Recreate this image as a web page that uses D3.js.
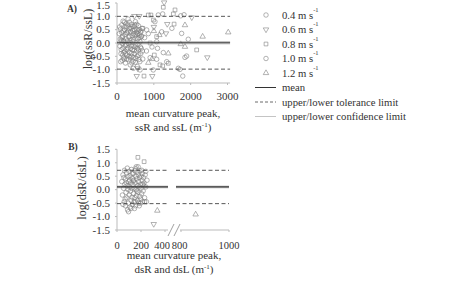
<!DOCTYPE html>
<html><head><meta charset="utf-8">
<script src="https://cdn.jsdelivr.net/npm/d3@7"></script>
<style>body{margin:0;background:#fff}svg{display:block}text{font-family:"Liberation Serif",serif;fill:#333}</style>
</head><body><svg id="c" width="474" height="287"></svg>
<script>
// ---------- DATA ----------
const yTicks = [1.5, 1.0, 0.5, 0.0, -0.5, -1.0, -1.5];
const xTicksA = [0, 1000, 2000, 3000];
const xTicksBLeft = [0, 200, 400];
const xTicksBRight = [800, 1000];
const legendSpeeds = ["0.4", "0.6", "0.8", "1.0", "1.2"];
const legendLines = ["mean", "upper/lower tolerance limit", "upper/lower confidence limit"];

// Panel A: [mean curvature peak, log(ssR/ssL)]
const a04 = [
[60,0.35],[80,-0.12],[95,0.52],[110,-0.4],[120,0.1],[130,0.68],[140,-0.65],[150,0.25],[160,-0.2],[170,0.45],
[180,-0.55],[190,0.05],[200,0.78],[210,-0.3],[220,0.32],[230,-0.75],[240,0.15],[250,-0.05],[260,0.6],[270,-0.45],
[280,0.38],[290,-0.18],[300,0.9],[310,-0.62],[320,0.22],[330,-0.35],[340,0.55],[350,0.02],[360,-0.82],[370,0.42],
[380,-0.1],[390,0.7],[400,-0.5],[410,0.28],[420,-0.25],[430,0.48],[440,-0.68],[450,0.12],[460,0.62],[470,-0.4],
[480,0.3],[490,-0.15],[500,0.8],[510,-0.58],[520,0.18],[530,-0.3],[540,0.5],[550,-0.88],[560,0.35],[570,-0.05],
[580,0.65],[590,-0.45],[600,0.2],[620,-0.7],[640,0.4],[660,-0.2],[680,0.55],[700,-0.6],
[70,0.6],[100,-0.7],[125,0.4],[145,-0.02],[165,0.82],[185,-0.35],[205,0.5],[225,-0.1],[245,0.72],[265,-0.6],
[285,0.08],[305,0.45],[325,-0.5],[345,0.25],[365,-0.2],[385,0.55],[405,-0.75],[425,0.05],[445,0.35],[465,-0.28],
[485,0.68],[505,-0.08],[525,0.4],[545,-0.5],[565,0.15],[585,-0.25],[605,0.5],[625,0.05],[645,-0.4],[665,0.25],
[90,0.15],[115,-0.25],[135,0.2],[155,-0.45],[175,0.1],[195,-0.6],[215,0.62],[235,-0.4],[255,0.38],[275,-0.25],
[295,0.68],[315,-0.02],[335,0.78],[355,-0.55],[375,0.12],[395,-0.38],[415,0.62],[435,-0.12],[455,-0.55],[475,0.5],
[495,-0.72],[515,0.3],[535,0.7],[555,-0.2],[575,0.45],[595,-0.62],[615,0.3],[635,-0.15],[655,0.45],[690,-0.3]
];
const a06 = [[1280,1.52],[470,1.01],[605,1.01],[2030,0.96],[1365,0.71],[1330,0.36],[670,0.24],[2452,-0.54],[535,-1.24],[958,-1.24],[560,-0.95],[1000,0.6]];
const a08 = [[1257,1.34],[1575,1.24],[1530,1.09],[850,1.05],[920,1.05],[990,0.86],[1550,0.71],[1077,0.24],[2163,-0.26],[1013,-0.45],[1393,-0.76],[1240,-0.86],[1167,-0.82],[733,-1.24],[900,0.0],[700,0.55]];
const a10 = [[1120,1.05],[1240,1.09],[1730,1.02],[1820,1.06],[1030,0.8],[805,0.49],[1490,0.55],[1213,0.42],[1755,0.36],[1935,0.14],[1077,0.05],[1257,-0.36],[1077,-0.61],[1845,-0.54],[1890,-0.49],[1350,-0.7],[1665,-0.95],[1710,-0.99],[1785,-1.24],[625,-1.01],[985,-1.01],[443,-0.95],[800,-0.3],[900,-0.55],[750,0.2],[950,-0.15],[850,0.35],[1100,-0.2]];
const a12 = [[1845,0.67],[2325,0.24],[3020,0.4],[1730,-0.04],[1845,-0.14],[1393,-0.39],[850,-0.74],[1000,0.45],[950,-0.6],[1150,0.3]];
const aMean = 0.01, aConf = [0.05, -0.03], aTol = [1.0, -0.98];

// Panel B: [mean curvature peak, log(dsR/dsL)]
const b04 = [
[40,0.3],[45,-0.2],[50,0.55],[55,0.05],[60,-0.45],[62,0.72],[65,0.2],[70,-0.6],[72,0.4],[75,-0.1],
[80,0.62],[82,-0.3],[85,0.15],[88,-0.75],[90,0.48],[92,0.0],[95,-0.5],[98,0.3],[100,0.68],[102,-0.2],
[105,0.1],[108,-0.65],[110,0.52],[112,-0.05],[115,0.25],[118,-0.4],[120,0.75],[122,0.05],[125,-0.28],[128,0.42],
[130,-0.55],[132,0.18],[135,0.6],[138,-0.15],[140,0.35],[142,-0.45],[145,0.05],[148,0.7],[150,-0.3],[152,0.25],
[155,-0.6],[158,0.5],[160,0.0],[162,-0.22],[165,0.4],[168,0.65],[170,-0.4],[172,0.15],[175,-0.1],[178,0.55],
[180,0.3],[182,-0.5],[185,0.1],[188,0.45],[190,-0.25],[192,0.7],[195,0.2],[198,-0.35],[200,0.5],[202,0.05],
[205,-0.15],[208,0.35],[210,0.6],[212,-0.45],[215,0.2],[218,-0.05],[220,0.45],[225,0.25],[230,-0.3],[235,0.55],
[240,0.1],[245,-0.45],[250,0.35],[50,-0.55],[58,0.45],[68,-0.35],[78,0.25],[86,0.8],[96,-0.82],[106,0.35],
[116,-0.7],[126,0.6],[136,0.32],[146,-0.7],[156,0.78],[166,-0.05],[176,0.85],[186,-0.6],[196,-0.5],[206,0.72]
];
const b06 = [[306,-1.28],[150,-0.45]];
const b08 = [[174,1.2],[226,1.04]];
const b10 = [[160,0.85],[240,0.68],[230,-0.45]];
const b12 = [[226,0.15],[336,-0.78],[861,-0.92]];
const bMean = 0.1, bConf = [0.13, 0.07], bTol = [0.72, -0.52];

// ---------- DRAW ----------
const svg = d3.select("#c");
const axisCol = "#bbb", markCol = "#808080";

const xA = d3.scaleLinear().domain([0, 3000]).range([117, 227.5]);
const yA = d3.scaleLinear().domain([-1.5, 1.5]).range([83, 3]);
const xBL = d3.scaleLinear().domain([0, 400]).range([117, 165]);
const xBR = d3.scaleLinear().domain([800, 1000]).range([181, 229]);
const xB = v => v <= 400 ? xBL(v) : xBR(v);
const yB = d3.scaleLinear().domain([-1.5, 1.5]).range([230, 149.3]);

const sym = {
  circle: d3.symbol().type(d3.symbolCircle).size(16)(),
  square: d3.symbol().type(d3.symbolSquare).size(14)(),
  tri: d3.symbol().type(d3.symbolTriangle).size(13)()
};
function marks(g, data, x, y, kind) {
  g.selectAll(null).data(data).join("path")
    .attr("d", kind === "inv" ? sym.tri : sym[kind])
    .attr("transform", d => `translate(${x(d[0])},${y(d[1])})` + (kind === "inv" ? " rotate(180)" : ""))
    .attr("fill", "none").attr("stroke", markCol).attr("stroke-width", 0.6);
}
function hline(g, x1, x2, yv, y, style) {
  const l = g.append("line").attr("x1", x1).attr("x2", x2).attr("y1", y(yv)).attr("y2", y(yv));
  if (style === "mean") l.attr("stroke", "#333").attr("stroke-width", 1.2);
  if (style === "tol") l.attr("stroke", "#444").attr("stroke-width", 0.9).attr("stroke-dasharray", "4,2.5");
  if (style === "conf") l.attr("stroke", "#999").attr("stroke-width", 0.7);
}
function yAxis(g, y, x0) {
  g.append("line").attr("x1", x0).attr("x2", x0).attr("y1", y(1.5)).attr("y2", y(-1.5)).attr("stroke", axisCol);
  g.selectAll(null).data(yTicks).join("line")
    .attr("x1", x0 - 2).attr("x2", x0).attr("y1", d => y(d)).attr("y2", d => y(d)).attr("stroke", axisCol);
  g.selectAll(null).data(yTicks).join("text")
    .attr("x", x0 - 7).attr("y", d => Math.max(y(d) + 3.8, 8.5)).attr("text-anchor", "end").attr("font-size", 11)
    .text(d => d.toFixed(1));
}

// Panel A
const gA = svg.append("g");
yAxis(gA, yA, 117);
gA.append("line").attr("x1", xA(0)).attr("x2", xA(3070)).attr("y1", yA(-1.5)).attr("y2", yA(-1.5)).attr("stroke", axisCol);
gA.selectAll(null).data(xTicksA).join("line").attr("x1", d => xA(d)).attr("x2", d => xA(d))
  .attr("y1", yA(-1.5)).attr("y2", yA(-1.5) + 2).attr("stroke", axisCol);
gA.selectAll(null).data(xTicksA).join("text").attr("x", d => xA(d)).attr("y", 99.5)
  .attr("text-anchor", "middle").attr("font-size", 11).text(d => d);
marks(gA, a04, xA, yA, "circle");
marks(gA, a06, xA, yA, "inv");
marks(gA, a08, xA, yA, "square");
marks(gA, a10, xA, yA, "circle");
marks(gA, a12, xA, yA, "tri");
aConf.forEach(v => hline(gA, xA(0), xA(3070), v, yA, "conf"));
hline(gA, xA(0), xA(3070), aMean, yA, "mean");
aTol.forEach(v => hline(gA, xA(0), xA(3070), v, yA, "tol"));
gA.append("text").attr("x", 72).attr("y", 12).attr("font-size", 9.5).attr("font-weight", "bold").attr("text-anchor", "middle").text("A)");
gA.append("text").attr("transform", "translate(92,39) rotate(-90)").attr("text-anchor", "middle").attr("font-size", 12).text("log(ssR/ssL)");
gA.append("text").attr("x", 173).attr("y", 117).attr("text-anchor", "middle").attr("font-size", 11).text("mean curvature peak,");
const tA = gA.append("text").attr("x", 173).attr("y", 131).attr("text-anchor", "middle").attr("font-size", 11);
tA.append("tspan").text("ssR and ssL (m");
tA.append("tspan").attr("font-size", 7).attr("dy", -4).text("-1");
tA.append("tspan").attr("dy", 4).text(")");

// Legend
const gL = svg.append("g");
const legKinds = ["circle", "inv", "square", "circle", "tri"];
const legY = d3.scaleLinear().domain([0, 7]).range([15, 116.5]);
legendSpeeds.forEach((s, i) => {
  const yy = legY(i);
  gL.append("path").attr("d", legKinds[i] === "inv" ? sym.tri : sym[legKinds[i]])
    .attr("transform", `translate(266,${yy})` + (legKinds[i] === "inv" ? " rotate(180)" : ""))
    .attr("fill", "none").attr("stroke", markCol).attr("stroke-width", 0.6);
  const t = gL.append("text").attr("x", 282).attr("y", yy + 3.5).attr("font-size", 10.7);
  t.append("tspan").text(s + " m s");
  t.append("tspan").attr("font-size", 6.5).attr("dy", -7).text("-1");
});
legendLines.forEach((s, i) => {
  const yy = legY(i + 5);
  const l = gL.append("line").attr("x1", 255).attr("x2", 276).attr("y1", yy).attr("y2", yy);
  if (i === 0) l.attr("stroke", "#333").attr("stroke-width", 1);
  if (i === 1) l.attr("stroke", "#444").attr("stroke-width", 0.8).attr("stroke-dasharray", "3,2");
  if (i === 2) l.attr("stroke", "#aaa").attr("stroke-width", 0.7);
  gL.append("text").attr("x", 282).attr("y", yy + 3.5).attr("font-size", 10.7).text(s);
});

// Panel B
const gB = svg.append("g");
yAxis(gB, yB, 117);
const yb0 = yB(-1.5);
gB.append("line").attr("x1", xBL(0)).attr("x2", xBL(400) + 3).attr("y1", yb0).attr("y2", yb0).attr("stroke", axisCol);
gB.append("line").attr("x1", xBR(800) - 1).attr("x2", xBR(1000)).attr("y1", yb0).attr("y2", yb0).attr("stroke", axisCol);
[0, 6].forEach(o => gB.append("line").attr("x1", xBL(400) + 3 + o).attr("x2", xBL(400) + 9 + o)
  .attr("y1", yb0 + 6).attr("y2", yb0 - 6).attr("stroke", "#888").attr("stroke-width", 0.8));
gB.selectAll(null).data(xTicksBLeft).join("line").attr("x1", d => xBL(d)).attr("x2", d => xBL(d))
  .attr("y1", yb0).attr("y2", yb0 + 2).attr("stroke", axisCol);
gB.selectAll(null).data(xTicksBRight).join("line").attr("x1", d => xBR(d)).attr("x2", d => xBR(d))
  .attr("y1", yb0).attr("y2", yb0 + 2).attr("stroke", axisCol);
gB.selectAll(null).data(xTicksBLeft).join("text").attr("x", d => xBL(d) - (d === 400 ? 3 : 0)).attr("y", 248.5)
  .attr("text-anchor", "middle").attr("font-size", 10.5).text(d => d);
gB.selectAll(null).data(xTicksBRight).join("text").attr("x", d => xBR(d) - (d === 800 ? 1.5 : 0)).attr("y", 248.5)
  .attr("text-anchor", "middle").attr("font-size", 10.5).text(d => d);
marks(gB, b04, xB, yB, "circle");
marks(gB, b06, xB, yB, "inv");
marks(gB, b08, xB, yB, "square");
marks(gB, b10, xB, yB, "circle");
marks(gB, b12, xB, yB, "tri");
function segLines(v, style) {
  hline(gB, xBL(0), xBL(400) + 3, v, yB, style);
  hline(gB, xBR(800) - 5, xBR(1000), v, yB, style);
}
bConf.forEach(v => segLines(v, "conf"));
segLines(bMean, "mean");
bTol.forEach(v => segLines(v, "tol"));
gB.append("text").attr("x", 73).attr("y", 150).attr("font-size", 9.5).attr("font-weight", "bold").attr("text-anchor", "middle").text("B)");
gB.append("text").attr("transform", "translate(86,188) rotate(-90)").attr("text-anchor", "middle").attr("font-size", 12).text("log(dsR/dsL)");
gB.append("text").attr("x", 174).attr("y", 259).attr("text-anchor", "middle").attr("font-size", 11).text("mean curvature peak,");
const tB = gB.append("text").attr("x", 174).attr("y", 273).attr("text-anchor", "middle").attr("font-size", 11);
tB.append("tspan").text("dsR and dsL (m");
tB.append("tspan").attr("font-size", 7).attr("dy", -4).text("-1");
tB.append("tspan").attr("dy", 4).text(")");
</script></body></html>
